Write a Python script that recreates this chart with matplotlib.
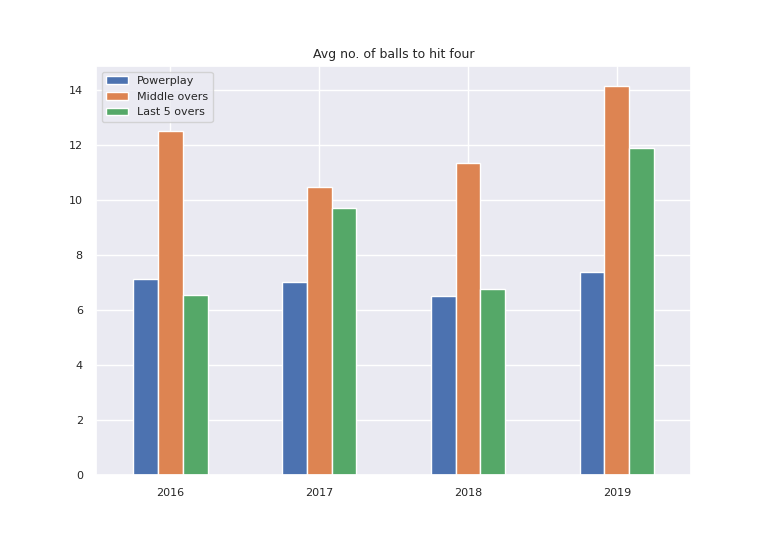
import matplotlib
matplotlib.use("Agg")
import matplotlib.pyplot as plt
import seaborn as sns
import pandas as pd

sns.set()

years = ['2016', '2017', '2018', '2019']
powerplay = [7.14, 7.04, 6.52, 7.38]
middle_overs = [12.51, 10.48, 11.37, 14.17]
last_5_overs = [6.57, 9.72, 6.78, 11.9]

df = pd.DataFrame({'Powerplay': powerplay,
                   'Middle overs': middle_overs,
                   'Last 5 overs': last_5_overs}, index=years)

fig, ax = plt.subplots(figsize=(7.68, 5.43), dpi=100)
fig.subplots_adjust(left=0.125, right=0.9, top=0.878, bottom=0.125)
df.plot.bar(ax=ax, rot=0)
ax.set_title('Avg no. of balls to hit four', fontsize=9)
ax.tick_params(labelsize=8)
ax.legend(fontsize=8, loc='upper left')
fig.savefig('out.png', dpi=100)
